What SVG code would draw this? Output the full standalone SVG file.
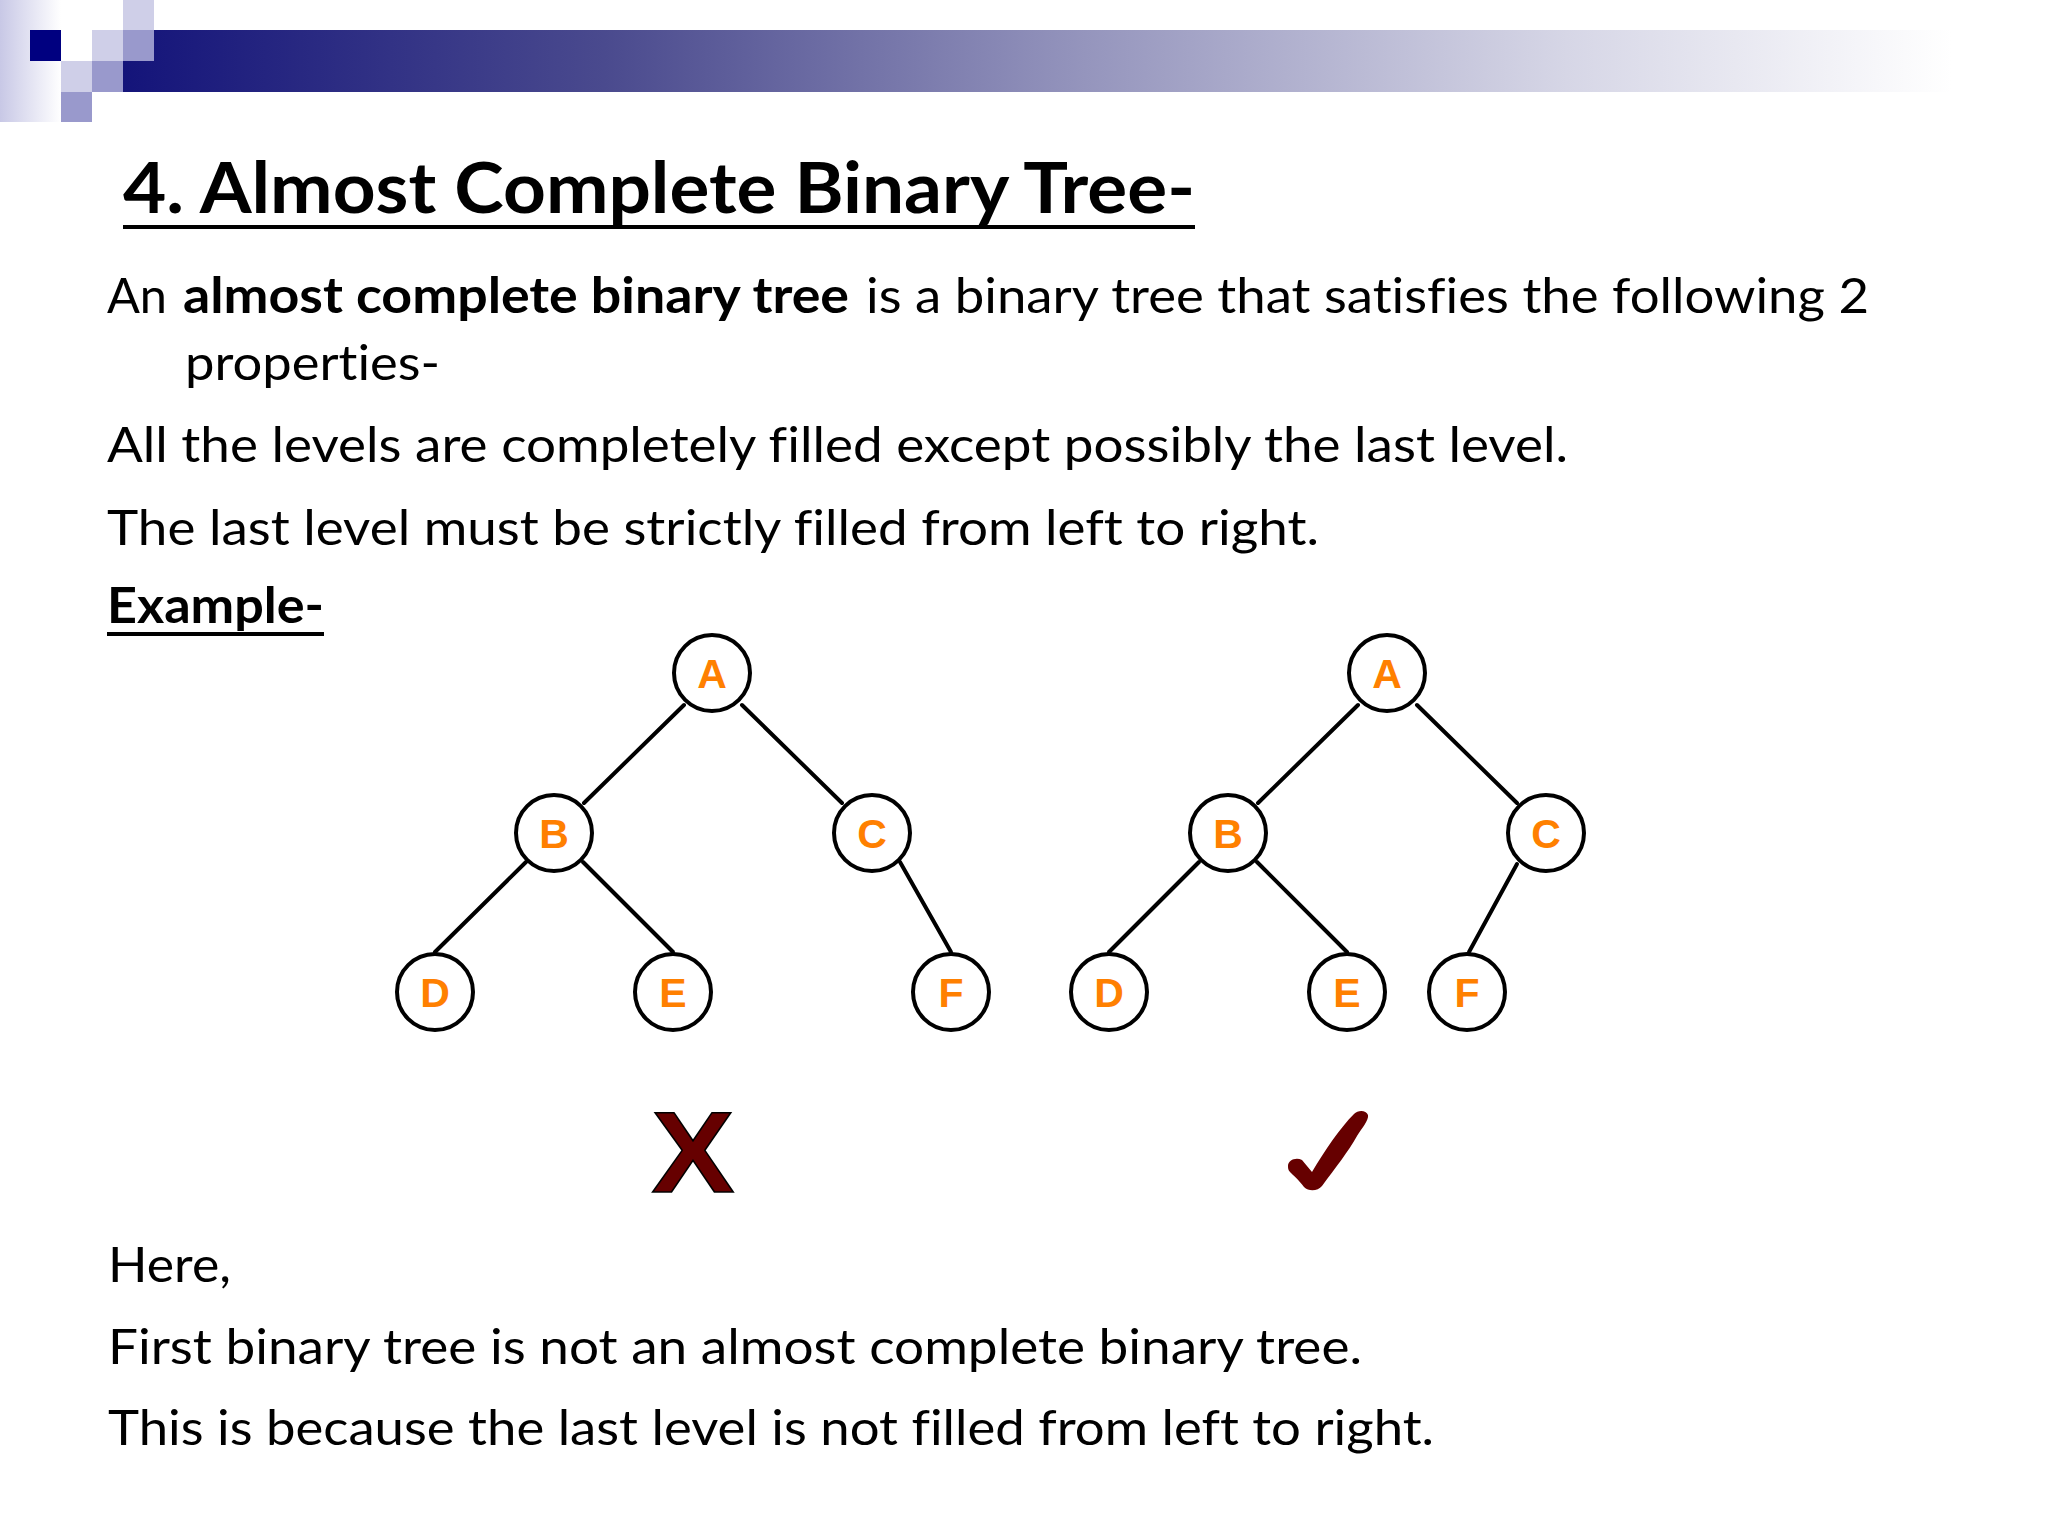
<svg xmlns="http://www.w3.org/2000/svg" width="2048" height="1536" viewBox="0 0 2048 1536">
<defs>
<linearGradient id="bar" x1="123" y1="0" x2="2048" y2="0" gradientUnits="userSpaceOnUse">
<stop offset="0" stop-color="#14147a"/>
<stop offset="0.25" stop-color="#4a4a8e"/>
<stop offset="0.5" stop-color="#9595bd"/>
<stop offset="0.75" stop-color="#d6d6e6"/>
<stop offset="0.95" stop-color="#ffffff"/>
</linearGradient>
<linearGradient id="strip" x1="0" y1="0" x2="61" y2="0" gradientUnits="userSpaceOnUse">
<stop offset="0" stop-color="#c8c8e6"/>
<stop offset="1" stop-color="#ffffff"/>
</linearGradient>
<style>
.body{font-family:Lato,"Open Sans","Liberation Sans",sans-serif;font-size:49px;fill:#000;font-variant-ligatures:none}
.b{font-weight:bold}
.title{font-family:Lato,"Open Sans","Liberation Sans",sans-serif;font-size:70px;font-weight:bold;fill:#000;font-variant-ligatures:none}
.node circle{fill:#fff;stroke:#000;stroke-width:4}
.node text{font-family:"Liberation Sans",Arial,sans-serif;font-weight:bold;font-size:41px;fill:#ff8000;text-anchor:middle}
.edge{stroke:#000;stroke-width:4;stroke-linecap:round}
.light{fill:#cfcfe8}
.mid{fill:#9999cc}
</style>
</defs>
<rect width="2048" height="1536" fill="#ffffff"/>
<g id="header">
<rect x="0" y="0" width="61" height="122" fill="url(#strip)"/>
<rect x="123" y="30" width="1925" height="62" fill="url(#bar)"/>
<rect x="30" y="30" width="31" height="31" fill="#000080"/>
<rect class="light" x="123" y="0" width="31" height="30"/>
<rect class="mid" x="123" y="30" width="31" height="31"/>
<rect class="light" x="92" y="30" width="31" height="31"/>
<rect class="mid" x="92" y="61" width="31" height="31"/>
<rect class="light" x="61" y="61" width="31" height="31"/>
<rect class="mid" x="61" y="92" width="31" height="30"/>
</g>
<g id="title">
<text class="title" x="123" y="213" textLength="1072" lengthAdjust="spacingAndGlyphs">4. Almost Complete Binary Tree-</text>
<rect x="123" y="225" width="1072" height="4" fill="#000"/>
</g>
<g id="text">
<text class="body" x="107" y="313" textLength="60" lengthAdjust="spacingAndGlyphs">An</text>
<text class="body b" x="183" y="313" textLength="666" lengthAdjust="spacingAndGlyphs">almost complete binary tree</text>
<text class="body" x="866" y="313" textLength="1003" lengthAdjust="spacingAndGlyphs">is a binary tree that satisfies the following 2</text>
<text class="body" x="185" y="380" textLength="255" lengthAdjust="spacingAndGlyphs">properties-</text>
<text class="body" x="107" y="462" textLength="1461" lengthAdjust="spacingAndGlyphs">All the levels are completely filled except possibly the last level.</text>
<text class="body" x="107" y="545" textLength="1212" lengthAdjust="spacingAndGlyphs">The last level must be strictly filled from left to right.</text>
<text class="body b" x="107" y="623" textLength="217" lengthAdjust="spacingAndGlyphs">Example-</text>
<rect x="107" y="632" width="217" height="4" fill="#000"/>
<text class="body" x="108" y="1282" textLength="123" lengthAdjust="spacingAndGlyphs">Here,</text>
<text class="body" x="108" y="1364" textLength="1254" lengthAdjust="spacingAndGlyphs">First binary tree is not an almost complete binary tree.</text>
<text class="body" x="108" y="1445" textLength="1326" lengthAdjust="spacingAndGlyphs">This is because the last level is not filled from left to right.</text>
</g>
<g id="connectors">
<line class="edge" x1="684" y1="705" x2="584" y2="803"/>
<line class="edge" x1="742" y1="705" x2="842" y2="803"/>
<line class="edge" x1="526" y1="862" x2="435" y2="952"/>
<line class="edge" x1="583" y1="862" x2="673" y2="952"/>
<line class="edge" x1="900" y1="862" x2="951" y2="952"/>
<line class="edge" x1="1358" y1="705" x2="1258" y2="803"/>
<line class="edge" x1="1417" y1="705" x2="1517" y2="803"/>
<line class="edge" x1="1199" y1="862" x2="1109" y2="952"/>
<line class="edge" x1="1257" y1="862" x2="1347" y2="952"/>
<line class="edge" x1="1517" y1="864" x2="1469" y2="952"/>
</g>
<g id="tree1-A" class="node"><circle cx="712" cy="673" r="38"/><text x="712" y="688">A</text></g>
<g id="tree1-B" class="node"><circle cx="554" cy="833" r="38"/><text x="554" y="848">B</text></g>
<g id="tree1-C" class="node"><circle cx="872" cy="833" r="38"/><text x="872" y="848">C</text></g>
<g id="tree1-D" class="node"><circle cx="435" cy="992" r="38"/><text x="435" y="1007">D</text></g>
<g id="tree1-E" class="node"><circle cx="673" cy="992" r="38"/><text x="673" y="1007">E</text></g>
<g id="tree1-F" class="node"><circle cx="951" cy="992" r="38"/><text x="951" y="1007">F</text></g>
<g id="tree2-A" class="node"><circle cx="1387" cy="673" r="38"/><text x="1387" y="688">A</text></g>
<g id="tree2-B" class="node"><circle cx="1228" cy="833" r="38"/><text x="1228" y="848">B</text></g>
<g id="tree2-C" class="node"><circle cx="1546" cy="833" r="38"/><text x="1546" y="848">C</text></g>
<g id="tree2-D" class="node"><circle cx="1109" cy="992" r="38"/><text x="1109" y="1007">D</text></g>
<g id="tree2-E" class="node"><circle cx="1347" cy="992" r="38"/><text x="1347" y="1007">E</text></g>
<g id="tree2-F" class="node"><circle cx="1467" cy="992" r="38"/><text x="1467" y="1007">F</text></g>
<g id="cross">
<text x="693" y="1192" text-anchor="middle" font-family="'Liberation Sans',Arial,sans-serif" font-weight="bold" font-size="115" fill="#660000" stroke="#000" stroke-width="1.5" transform="translate(693 0) scale(1.08 1) translate(-693 0)">X</text>
</g>
<g id="check">
<path d="M1288,1166 C1288,1160 1296,1157 1302,1160 L1312,1172 C1325,1150 1340,1128 1354,1114 C1358,1110 1366,1110 1368,1115 C1369,1120 1362,1128 1357,1136 C1348,1152 1336,1167 1322,1186 C1318,1191 1309,1192 1304,1187 C1299,1180 1293,1175 1290,1172 C1288,1170 1288,1168 1288,1166 Z" fill="#660000"/>
</g>
</svg>
